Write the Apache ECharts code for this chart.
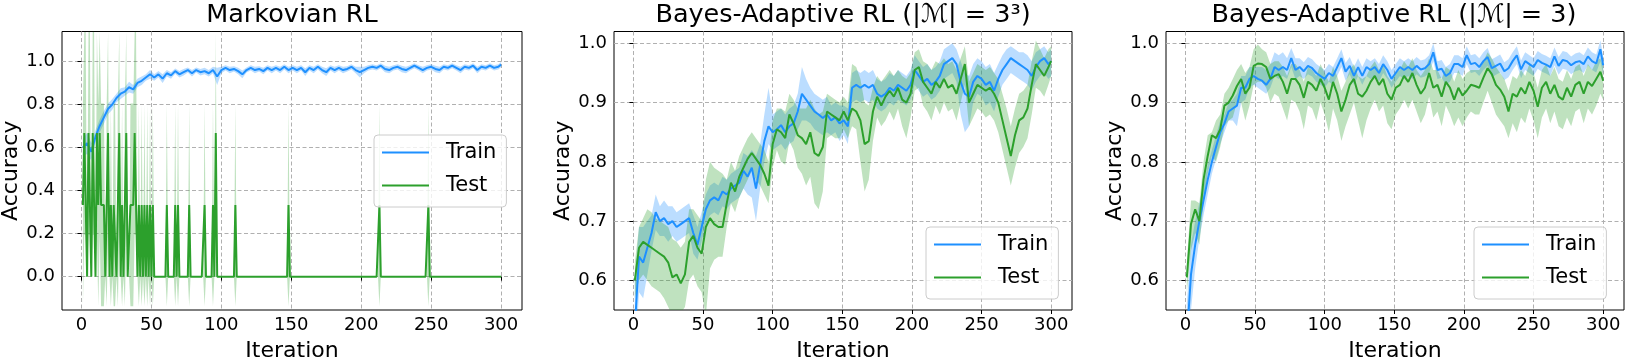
<!DOCTYPE html>
<html>
<head>
<meta charset="utf-8">
<title>Train / Test accuracy</title>
<script src="https://cdn.jsdelivr.net/npm/echarts@6.0.0/dist/echarts.min.js"></script>
<style>
  html, body { margin: 0; padding: 0; background: #fff; }
  #chart { width: 1626px; height: 358px; }
</style>
</head>
<body>
<div id="chart"></div>
<script>
// sampled iterations: 1, 4, 7, ... 298, then 300
var iters = [];
for (var i = 1; i <= 298; i += 3) iters.push(i);
iters.push(300);

var xTicks = [0, 50, 100, 150, 200, 250, 300];
var yTicks1 = [0, 0.2, 0.4, 0.6, 0.8, 1.0];
var yTicks23 = [0.6, 0.7, 0.8, 0.9, 1.0];

// ---- panel 1 : Markovian RL ----
var train1 = [
  0.60, 0.62, 0.58, 0.65, 0.70, 0.74, 0.78, 0.80, 0.83, 0.85,
  0.86, 0.88, 0.87, 0.90, 0.91, 0.925, 0.94, 0.925, 0.94, 0.92,
  0.945, 0.935, 0.955, 0.94, 0.95, 0.96, 0.945, 0.96, 0.95, 0.955,
  0.945, 0.96, 0.93, 0.96, 0.97, 0.96, 0.965, 0.955, 0.94, 0.96,
  0.97, 0.96, 0.965, 0.955, 0.97, 0.96, 0.97, 0.96, 0.975, 0.96,
  0.97, 0.96, 0.97, 0.95, 0.97, 0.96, 0.975, 0.96, 0.95, 0.97,
  0.96, 0.97, 0.96, 0.965, 0.975, 0.96, 0.95, 0.96, 0.97, 0.975,
  0.97, 0.98, 0.965, 0.96, 0.97, 0.975, 0.965, 0.96, 0.97, 0.98,
  0.97, 0.96, 0.97, 0.975, 0.965, 0.96, 0.975, 0.97, 0.98, 0.97,
  0.96, 0.975, 0.97, 0.98, 0.96, 0.975, 0.97, 0.98, 0.97, 0.975,
  0.985
];
var train1Err = [
  0.04, 0.05, 0.04, 0.03, 0.03, 0.03, 0.025, 0.025, 0.02, 0.025,
  0.02, 0.025, 0.02, 0.02, 0.02, 0.015, 0.02, 0.015, 0.015, 0.02,
  0.015, 0.015, 0.012, 0.015, 0.015, 0.012, 0.015, 0.012, 0.015, 0.015,
  0.015, 0.015, 0.04, 0.015, 0.012, 0.015, 0.012, 0.015, 0.018, 0.012,
  0.012, 0.015, 0.012, 0.015, 0.012, 0.015, 0.012, 0.015, 0.012, 0.015,
  0.012, 0.015, 0.012, 0.018, 0.012, 0.015, 0.012, 0.015, 0.018, 0.012,
  0.015, 0.012, 0.015, 0.012, 0.012, 0.015, 0.025, 0.015, 0.012, 0.012,
  0.012, 0.012, 0.015, 0.015, 0.012, 0.012, 0.015, 0.015, 0.012, 0.012,
  0.012, 0.015, 0.012, 0.012, 0.015, 0.015, 0.012, 0.012, 0.012, 0.012,
  0.015, 0.012, 0.012, 0.012, 0.015, 0.012, 0.012, 0.012, 0.012, 0.012,
  0.012
];
// test accuracy on 3 tasks: iterations 1..52, then isolated spikes
var test1Early = [
  0.333, 0.667, 0.667, 0, 0.667, 0.667, 0, 0.667, 0.667, 0,
  0.667, 0.333, 0.667, 0.333, 0.333, 0.333, 0, 0.333, 0.667, 0,
  0.333, 0, 0.333, 0.333, 0, 0.333, 0.667, 0, 0.333, 0,
  0.333, 0.667, 0, 0, 0.333, 0.333, 0.333, 0.667, 0.667, 0,
  0.333, 0, 0.333, 0, 0.333, 0, 0.333, 0, 0.333, 0,
  0.333, 0
];
var test1Spikes = [
  [61, 0.333], [67, 0.333], [69, 0.333], [77, 0.333], [88, 0.333], [94, 0.333],
  [96, 0.667], [110, 0.333], [148, 0.333], [213, 0.333], [248, 0.333]
];
// shaded range for each test level (low, high)
var test1BandLevels = { '0': [0, 0], '0.333': [-0.138, 0.805], '0.667': [0.195, 1.138] };

// ---- panel 2 : Bayes-Adaptive RL (|M| = 3^3) ----
var train2 = [
  0.52, 0.64, 0.63, 0.655, 0.68, 0.715, 0.70, 0.705, 0.695, 0.70,
  0.69, 0.695, 0.70, 0.705, 0.68, 0.66, 0.69, 0.72, 0.735, 0.74,
  0.735, 0.75, 0.745, 0.755, 0.76, 0.765, 0.785, 0.775, 0.79, 0.755,
  0.795, 0.835, 0.86, 0.85, 0.855, 0.862, 0.85, 0.86, 0.865, 0.885,
  0.915, 0.905, 0.895, 0.885, 0.88, 0.874, 0.88, 0.87, 0.875, 0.865,
  0.87, 0.86, 0.925, 0.93, 0.925, 0.93, 0.925, 0.93, 0.915, 0.91,
  0.915, 0.925, 0.92, 0.93, 0.925, 0.92, 0.93, 0.955, 0.945, 0.935,
  0.94, 0.93, 0.935, 0.945, 0.965, 0.97, 0.975, 0.965, 0.935, 0.915,
  0.91, 0.935, 0.945, 0.94, 0.93, 0.935, 0.92, 0.94, 0.955, 0.965,
  0.975, 0.97, 0.965, 0.96, 0.955, 0.945, 0.96, 0.97, 0.975, 0.965,
  0.97
];
var train2Lo = [
  0.45, 0.58, 0.57, 0.61, 0.65, 0.685, 0.675, 0.675, 0.665, 0.675,
  0.665, 0.67, 0.675, 0.68, 0.645, 0.635, 0.665, 0.695, 0.71, 0.715,
  0.71, 0.725, 0.72, 0.73, 0.735, 0.74, 0.755, 0.745, 0.74, 0.70,
  0.755, 0.80, 0.83, 0.82, 0.825, 0.83, 0.82, 0.83, 0.835, 0.855,
  0.87, 0.87, 0.865, 0.855, 0.85, 0.845, 0.85, 0.845, 0.85, 0.835,
  0.845, 0.83, 0.90, 0.905, 0.90, 0.905, 0.90, 0.905, 0.89, 0.885,
  0.89, 0.90, 0.895, 0.905, 0.90, 0.895, 0.905, 0.93, 0.92, 0.91,
  0.915, 0.905, 0.91, 0.92, 0.94, 0.945, 0.95, 0.935, 0.88, 0.85,
  0.86, 0.90, 0.915, 0.91, 0.895, 0.90, 0.885, 0.91, 0.93, 0.94,
  0.95, 0.945, 0.94, 0.935, 0.93, 0.92, 0.935, 0.945, 0.95, 0.94,
  0.945
];
var train2Hi = [
  0.60, 0.69, 0.69, 0.70, 0.71, 0.745, 0.725, 0.735, 0.725, 0.725,
  0.715, 0.72, 0.725, 0.73, 0.71, 0.69, 0.715, 0.745, 0.76, 0.765,
  0.76, 0.775, 0.77, 0.78, 0.785, 0.79, 0.815, 0.81, 0.82, 0.81,
  0.83, 0.88, 0.925, 0.88, 0.885, 0.89, 0.88, 0.89, 0.895, 0.915,
  0.96, 0.94, 0.925, 0.915, 0.91, 0.905, 0.91, 0.895, 0.90, 0.895,
  0.895, 0.89, 0.95, 0.955, 0.95, 0.955, 0.95, 0.955, 0.94, 0.935,
  0.94, 0.95, 0.945, 0.955, 0.95, 0.945, 0.955, 0.98, 0.97, 0.96,
  0.965, 0.955, 0.96, 0.97, 0.99, 0.995, 1.0, 0.99, 0.97, 0.95,
  0.945, 0.965, 0.975, 0.97, 0.96, 0.965, 0.95, 0.965, 0.98, 0.99,
  0.995, 0.99, 0.985, 0.985, 0.98, 0.97, 0.985, 0.99, 0.995, 0.985,
  0.99
];
var test2 = [
  0.60, 0.655, 0.665, 0.66, 0.655, 0.65, 0.645, 0.64, 0.63, 0.605,
  0.61, 0.595, 0.61, 0.665, 0.675, 0.655, 0.645, 0.69, 0.705, 0.695,
  0.69, 0.69, 0.73, 0.765, 0.75, 0.775, 0.79, 0.805, 0.815, 0.805,
  0.795, 0.78, 0.76, 0.83, 0.855, 0.85, 0.84, 0.88, 0.865, 0.845,
  0.84, 0.83, 0.85, 0.815, 0.81, 0.825, 0.885, 0.88, 0.875, 0.87,
  0.885, 0.87, 0.89, 0.885, 0.87, 0.83, 0.835, 0.885, 0.91, 0.895,
  0.91, 0.92, 0.91, 0.925, 0.905, 0.90, 0.915, 0.955, 0.96, 0.935,
  0.925, 0.915, 0.935, 0.925, 0.94, 0.925, 0.93, 0.915, 0.94, 0.965,
  0.90, 0.915, 0.93, 0.925, 0.92, 0.925, 0.915, 0.90, 0.87, 0.84,
  0.81, 0.845, 0.87, 0.875, 0.89, 0.93, 0.965, 0.955, 0.945, 0.96,
  0.97
];
var test2Lo = [
  0.57, 0.60, 0.61, 0.60, 0.59, 0.585, 0.58, 0.57, 0.555, 0.54,
  0.55, 0.545, 0.555, 0.60, 0.61, 0.59, 0.58, 0.54, 0.62, 0.635,
  0.64, 0.64, 0.69, 0.73, 0.715, 0.74, 0.755, 0.77, 0.785, 0.77,
  0.76, 0.745, 0.73, 0.79, 0.82, 0.80, 0.795, 0.835, 0.82, 0.79,
  0.78, 0.76, 0.775, 0.73, 0.72, 0.75, 0.84, 0.845, 0.84, 0.84,
  0.855, 0.84, 0.86, 0.855, 0.80, 0.75, 0.77, 0.835, 0.875, 0.86,
  0.87, 0.885, 0.87, 0.89, 0.86, 0.84, 0.875, 0.92, 0.925, 0.895,
  0.885, 0.87, 0.895, 0.88, 0.90, 0.885, 0.89, 0.87, 0.90, 0.93,
  0.86, 0.875, 0.89, 0.885, 0.875, 0.88, 0.87, 0.85, 0.82, 0.79,
  0.76, 0.79, 0.815, 0.825, 0.84, 0.88, 0.925, 0.92, 0.91, 0.93,
  0.945
];
var test2Hi = [
  0.63, 0.69, 0.705, 0.72, 0.715, 0.705, 0.70, 0.695, 0.69, 0.67,
  0.665, 0.655, 0.665, 0.72, 0.72, 0.71, 0.70, 0.77, 0.80, 0.79,
  0.785, 0.78, 0.77, 0.80, 0.785, 0.81, 0.825, 0.84, 0.85, 0.84,
  0.83, 0.82, 0.80, 0.87, 0.89, 0.89, 0.885, 0.915, 0.905, 0.89,
  0.89, 0.89, 0.905, 0.89, 0.88, 0.885, 0.915, 0.91, 0.905, 0.90,
  0.91, 0.90, 0.965, 0.96, 0.94, 0.90, 0.895, 0.925, 0.945, 0.935,
  0.945, 0.955, 0.945, 0.955, 0.945, 0.94, 0.95, 0.985, 0.99, 0.97,
  0.965, 0.955, 0.97, 0.965, 0.975, 0.965, 0.97, 0.955, 0.975, 0.995,
  0.935, 0.95, 0.965, 0.96, 0.955, 0.96, 0.95, 0.94, 0.915, 0.89,
  0.86, 0.89, 0.915, 0.92, 0.93, 0.97, 1.005, 0.99, 0.975, 0.99,
  0.995
];

// ---- panel 3 : Bayes-Adaptive RL (|M| = 3) ----
var train3 = [
  0.50, 0.61, 0.66, 0.70, 0.735, 0.77, 0.80, 0.825, 0.85, 0.865,
  0.885, 0.89, 0.895, 0.925, 0.925, 0.94, 0.945, 0.94, 0.937, 0.93,
  0.94, 0.96, 0.955, 0.96, 0.955, 0.975, 0.955, 0.96, 0.953, 0.962,
  0.958, 0.95, 0.945, 0.94, 0.95, 0.945, 0.96, 0.975, 0.952, 0.962,
  0.945, 0.96, 0.945, 0.96, 0.955, 0.96, 0.95, 0.965, 0.955, 0.94,
  0.95, 0.96, 0.955, 0.96, 0.955, 0.962, 0.956, 0.958, 0.965, 0.985,
  0.955, 0.957, 0.945, 0.95, 0.965, 0.965, 0.96, 0.98, 0.965, 0.967,
  0.96, 0.97, 0.977, 0.958, 0.962, 0.966, 0.953, 0.958, 0.97, 0.98,
  0.956, 0.97, 0.965, 0.96, 0.972, 0.967, 0.964, 0.96, 0.978, 0.962,
  0.972, 0.97, 0.963, 0.968, 0.97, 0.965, 0.978, 0.97, 0.966, 0.99,
  0.963
];
var train3Lo = [
  0.45, 0.55, 0.62, 0.67, 0.71, 0.745, 0.78, 0.805, 0.83, 0.85,
  0.87, 0.87, 0.86, 0.90, 0.905, 0.925, 0.93, 0.925, 0.92, 0.915,
  0.925, 0.945, 0.94, 0.945, 0.94, 0.96, 0.94, 0.945, 0.94, 0.948,
  0.944, 0.935, 0.93, 0.925, 0.935, 0.93, 0.945, 0.96, 0.937, 0.948,
  0.93, 0.945, 0.93, 0.945, 0.94, 0.945, 0.935, 0.95, 0.94, 0.925,
  0.935, 0.945, 0.94, 0.945, 0.94, 0.948, 0.942, 0.944, 0.95, 0.97,
  0.94, 0.942, 0.93, 0.935, 0.95, 0.95, 0.945, 0.965, 0.95, 0.952,
  0.945, 0.955, 0.962, 0.943, 0.947, 0.951, 0.938, 0.943, 0.955, 0.965,
  0.941, 0.955, 0.95, 0.945, 0.957, 0.952, 0.949, 0.945, 0.963, 0.947,
  0.957, 0.955, 0.948, 0.953, 0.955, 0.95, 0.963, 0.955, 0.951, 0.97,
  0.948
];
var train3Hi = [
  0.56, 0.66, 0.70, 0.73, 0.76, 0.795, 0.82, 0.845, 0.87, 0.88,
  0.90, 0.905, 0.915, 0.945, 0.945, 0.96, 0.96, 0.96, 0.96, 0.955,
  0.965, 0.985, 0.98, 0.985, 0.975, 0.992, 0.975, 0.975, 0.968, 0.977,
  0.973, 0.965, 0.96, 0.955, 0.965, 0.96, 0.975, 0.99, 0.967, 0.977,
  0.96, 0.975, 0.96, 0.975, 0.97, 0.975, 0.965, 0.98, 0.97, 0.955,
  0.965, 0.975, 0.97, 0.975, 0.97, 0.977, 0.971, 0.973, 0.98, 1.0,
  0.97, 0.972, 0.96, 0.965, 0.98, 0.98, 0.975, 0.995, 0.98, 0.982,
  0.975, 0.985, 0.992, 0.973, 0.977, 0.981, 0.968, 0.973, 0.985, 0.995,
  0.971, 0.985, 0.98, 0.975, 0.987, 0.982, 0.979, 0.975, 0.993, 0.977,
  0.987, 0.985, 0.978, 0.983, 0.985, 0.98, 0.993, 0.985, 0.981, 1.005,
  0.978
];
var test3 = [
  0.605, 0.695, 0.72, 0.70, 0.77, 0.81, 0.845, 0.84, 0.855, 0.895,
  0.90, 0.912, 0.928, 0.94, 0.915, 0.925, 0.962, 0.966, 0.965, 0.96,
  0.94, 0.945, 0.948, 0.935, 0.915, 0.94, 0.94, 0.93, 0.908, 0.935,
  0.93, 0.92, 0.94, 0.925, 0.905, 0.935, 0.915, 0.885, 0.905, 0.93,
  0.94, 0.915, 0.91, 0.92, 0.935, 0.945, 0.93, 0.94, 0.915, 0.905,
  0.925, 0.93, 0.945, 0.935, 0.95, 0.93, 0.915, 0.925, 0.95, 0.925,
  0.93, 0.91, 0.935, 0.925, 0.905, 0.925, 0.912, 0.92, 0.93, 0.928,
  0.925, 0.942, 0.958, 0.948, 0.93, 0.922, 0.91, 0.885, 0.915, 0.91,
  0.925, 0.915, 0.935, 0.92, 0.893, 0.925, 0.935, 0.915, 0.93, 0.91,
  0.905, 0.925, 0.91, 0.93, 0.935, 0.915, 0.935, 0.928, 0.94, 0.952,
  0.937
];
var test3Lo = [
  0.58, 0.65, 0.68, 0.66, 0.73, 0.78, 0.81, 0.80, 0.825, 0.86,
  0.87, 0.875, 0.90, 0.90, 0.87, 0.895, 0.93, 0.935, 0.935, 0.925,
  0.90, 0.915, 0.91, 0.89, 0.87, 0.905, 0.90, 0.885, 0.855, 0.895,
  0.89, 0.87, 0.90, 0.88, 0.85, 0.89, 0.87, 0.835, 0.86, 0.88,
  0.90, 0.87, 0.84, 0.87, 0.89, 0.905, 0.885, 0.895, 0.865, 0.855,
  0.88, 0.89, 0.905, 0.89, 0.905, 0.885, 0.865, 0.88, 0.91, 0.875,
  0.885, 0.86, 0.895, 0.88, 0.86, 0.875, 0.86, 0.875, 0.885, 0.88,
  0.88, 0.90, 0.92, 0.90, 0.88, 0.87, 0.86, 0.84, 0.865, 0.85,
  0.875, 0.865, 0.89, 0.87, 0.84, 0.875, 0.89, 0.865, 0.885, 0.86,
  0.855, 0.875, 0.86, 0.885, 0.89, 0.865, 0.89, 0.88, 0.895, 0.915,
  0.905
];
var test3Hi = [
  0.63, 0.735, 0.735, 0.73, 0.80, 0.845, 0.85, 0.87, 0.88, 0.915,
  0.925, 0.94, 0.955, 0.965, 0.95, 0.96, 0.99, 0.998, 0.99, 0.985,
  0.965, 0.97, 0.97, 0.96, 0.945, 0.965, 0.965, 0.955, 0.935, 0.96,
  0.955, 0.945, 0.965, 0.95, 0.935, 0.96, 0.945, 0.92, 0.935, 0.955,
  0.965, 0.945, 0.94, 0.945, 0.96, 0.97, 0.955, 0.965, 0.945, 0.935,
  0.95, 0.955, 0.97, 0.96, 0.975, 0.955, 0.945, 0.955, 0.975, 0.955,
  0.955, 0.94, 0.96, 0.955, 0.935, 0.955, 0.94, 0.95, 0.955, 0.955,
  0.955, 0.97, 0.985, 0.975, 0.96, 0.95, 0.94, 0.92, 0.945, 0.94,
  0.955, 0.945, 0.965, 0.95, 0.925, 0.955, 0.965, 0.945, 0.96, 0.94,
  0.935, 0.955, 0.94, 0.96, 0.965, 0.945, 0.965, 0.955, 0.97, 0.975,
  0.96
];

var FONT = 'DejaVu Sans';
var BLUE = '#1e90ff';
var GREEN = '#2ca02c';

// full per-iteration test curve for panel 1
var iters1 = [], test1 = [], test1Lo = [], test1Hi = [];
var spikeMap = {};
test1Spikes.forEach(function (s) { spikeMap[s[0]] = s[1]; });
for (var it = 1; it <= 300; it++) {
  var v = it <= test1Early.length ? test1Early[it - 1] : (spikeMap[it] || 0);
  iters1.push(it);
  test1.push(v);
  test1Lo.push(test1BandLevels[String(v)][0]);
  test1Hi.push(test1BandLevels[String(v)][1]);
}
var train1Lo = train1.map(function (v, i) { return v - train1Err[i]; });
var train1Hi = train1.map(function (v, i) { return v + train1Err[i]; });

function pairs(xs, ys) {
  return xs.map(function (x, i) { return [x, ys[i]]; });
}

// shaded band between lo and hi, one polygon placed through the axis scales
function band(idx, xs, lo, hi, color) {
  return {
    type: 'custom', xAxisIndex: idx, yAxisIndex: idx, silent: true,
    data: [[xs[0], lo[0]]],
    renderItem: function (params, api) {
      var pts = [];
      for (var i = 0; i < xs.length; i++) pts.push(api.coord([xs[i], hi[i]]));
      for (var j = xs.length - 1; j >= 0; j--) pts.push(api.coord([xs[j], lo[j]]));
      var cs = params.coordSys;
      return {
        type: 'polygon',
        shape: { points: pts },
        style: { fill: color, opacity: 0.3 },
        clipPath: { type: 'rect', shape: { x: cs.x, y: cs.y, width: cs.width, height: cs.height } }
      };
    }
  };
}

function curve(idx, name, xs, ys, color) {
  return {
    type: 'line', name: name, xAxisIndex: idx, yAxisIndex: idx, data: pairs(xs, ys),
    symbol: 'none', silent: true, color: color, lineStyle: { width: 2, color: color }
  };
}

var grids = [
  { left: 62, top: 31.5, width: 460, height: 278.5 },
  { left: 614, top: 31.5, width: 458, height: 278.5 },
  { left: 1166, top: 31.5, width: 458, height: 278.5 }
];
grids.forEach(function (g) {
  g.show = true; g.borderColor = '#000'; g.borderWidth = 1;
  g.containLabel = false; g.outerBoundsMode = 'none';
});

var gridLine = { show: true, lineStyle: { color: '#b0b0b0', type: [4, 2.5], width: 1 } };

function xAxis(idx) {
  return {
    gridIndex: idx, type: 'value', min: -13.95, max: 314.95,
    axisLine: { show: false },
    axisTick: { show: true, length: 4, customValues: xTicks, lineStyle: { color: '#000', width: 1 } },
    axisLabel: { customValues: xTicks, fontSize: 18, color: '#000', fontFamily: FONT, margin: 6 },
    splitLine: gridLine,
    name: 'Iteration', nameLocation: 'middle', nameGap: 30,
    nameTextStyle: { fontSize: 22, color: '#000', fontFamily: FONT }
  };
}

function yAxis(idx, min, max, ticks) {
  return {
    gridIndex: idx, type: 'value', min: min, max: max,
    axisLine: { show: false },
    axisTick: { show: true, length: 4, customValues: ticks, lineStyle: { color: '#000', width: 1 } },
    axisLabel: {
      customValues: ticks, fontSize: 18, color: '#000', fontFamily: FONT, margin: 7,
      formatter: function (v) { return v.toFixed(1); }
    },
    splitLine: gridLine,
    name: 'Accuracy', nameLocation: 'middle', nameGap: 40,
    nameTextStyle: { fontSize: 22, color: '#000', fontFamily: FONT }
  };
}

function legend(left, top) {
  return {
    data: ['Train', 'Test'], orient: 'vertical', left: left, top: top,
    icon: 'rect', itemWidth: 47, itemHeight: 2, itemGap: 8,
    padding: [5, 10, 9, 8], selectedMode: false,
    borderColor: '#cccccc', borderWidth: 1, borderRadius: 4,
    backgroundColor: 'rgba(255,255,255,0.8)',
    textStyle: { fontSize: 21, color: '#000', fontFamily: FONT, lineHeight: 25, padding: [0, 0, 0, 12] }
  };
}

function title(text, center) {
  return {
    text: text, left: center, top: 2, textAlign: 'center', padding: 0,
    textStyle: { fontSize: 25.5, fontWeight: 'normal', color: '#000', fontFamily: FONT }
  };
}

var series = [
  band(0, iters, train1Lo, train1Hi, BLUE),
  curve(0, 'Train', iters, train1, BLUE),
  band(0, iters1, test1Lo, test1Hi, GREEN),
  curve(0, 'Test', iters1, test1, GREEN),

  band(1, iters, train2Lo, train2Hi, BLUE),
  curve(1, 'Train', iters, train2, BLUE),
  band(1, iters, test2Lo, test2Hi, GREEN),
  curve(1, 'Test', iters, test2, GREEN),

  band(2, iters, train3Lo, train3Hi, BLUE),
  curve(2, 'Train', iters, train3, BLUE),
  band(2, iters, test3Lo, test3Hi, GREEN),
  curve(2, 'Test', iters, test3, GREEN)
];

var chart = echarts.init(document.getElementById('chart'), null, { renderer: 'canvas' });
chart.setOption({
  animation: false,
  backgroundColor: '#fff',
  title: [
    title('Markovian RL', 292),
    title('Bayes-Adaptive RL (|ℳ| = 3³)', 843),
    title('Bayes-Adaptive RL (|ℳ| = 3)', 1394)
  ],
  legend: [legend(374, 135), legend(926, 227), legend(1474, 227)],
  grid: grids,
  xAxis: [xAxis(0), xAxis(1), xAxis(2)],
  yAxis: [
    yAxis(0, -0.155, 1.139, yTicks1),
    yAxis(1, 0.55, 1.02, yTicks23),
    yAxis(2, 0.55, 1.02, yTicks23)
  ],
  series: series
});
</script>
</body>
</html>
